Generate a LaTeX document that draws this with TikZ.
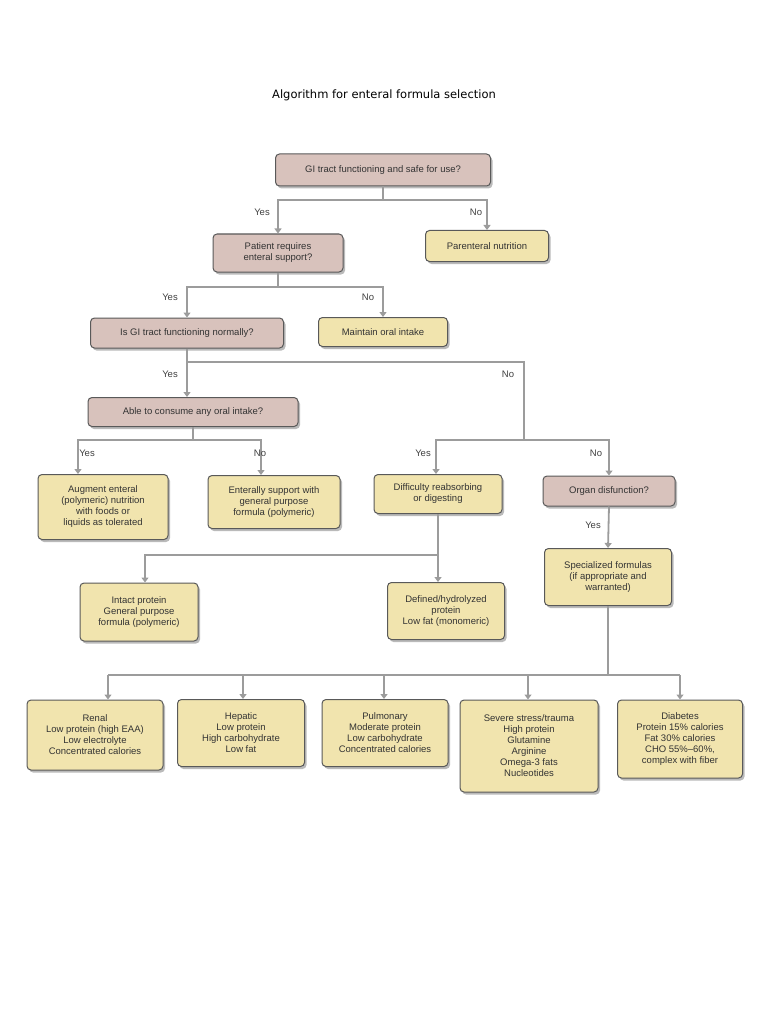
\documentclass[tikz,border=0pt]{standalone}
\usepackage{fontspec}
\setmainfont{Liberation Sans}
\newfontfamily\titlefont{DejaVu Sans}
\usetikzlibrary{shadows,arrows.meta}
\definecolor{pinkbox}{HTML}{D8C2BC}
\definecolor{yelbox}{HTML}{F1E4AE}
\definecolor{lin}{HTML}{9C9C9C}
\begin{document}
\begin{tikzpicture}[x=1pt,y=-1pt,
  bx/.style 2 args={draw=black!65, line width=1pt, rounded corners=4pt, align=center,
    font=\fontsize{9.5}{11}\selectfont, text=black!80, inner sep=1pt,
    minimum width=#1, minimum height=#2,
    drop shadow={shadow xshift=2pt, shadow yshift=-2.5pt, fill=black!45, opacity=.6}},
  pk/.style={fill=pinkbox},
  yl/.style={fill=yelbox},
  ln/.style={draw=lin, line width=1.8pt},
  ar/.style={ln, -{Triangle[width=7pt,length=5pt]}},
  lb/.style={font=\fontsize{9.5}{11}\selectfont, text=black!75}]
\useasboundingbox (0,0) rectangle (768,1024);
\node[font=\titlefont\fontsize{11.5}{14}\selectfont] (title) at (384,95) {Algorithm for enteral formula selection};

\node[bx={215pt}{32pt},pk] (gi) at (383,170) {GI tract functioning and safe for use?};
\node[bx={130pt}{38pt},pk] (pat) at (278,253) {Patient requires\\enteral support?};
\node[bx={123pt}{31pt},yl] (par) at (487,246) {Parenteral nutrition};
\node[bx={193pt}{30pt},pk] (isgi) at (187,333) {Is GI tract functioning normally?};
\node[bx={129pt}{29pt},yl] (oral) at (383,332) {Maintain oral intake};
\node[bx={210pt}{29pt},pk] (able) at (193,412) {Able to consume any oral intake?};
\node[bx={130pt}{65pt},yl] (aug) at (103,507) {Augment enteral\\(polymeric) nutrition\\with foods or\\liquids as tolerated};
\node[bx={132pt}{53pt},yl] (ent) at (274,502) {Enterally support with\\general purpose\\formula (polymeric)};
\node[bx={128pt}{39pt},yl] (dif) at (438,494) {Difficulty reabsorbing\\or digesting};
\node[bx={132pt}{30pt},pk] (org) at (609,491) {Organ disfunction?};
\node[bx={127pt}{57pt},yl] (spec) at (608,577) {Specialized formulas\\(if appropriate and\\warranted)};
\node[bx={118pt}{58pt},yl] (int) at (139,612) {Intact protein\\General purpose\\formula (polymeric)};
\node[bx={117pt}{57pt},yl] (def) at (446,611) {Defined/hydrolyzed\\protein\\Low fat (monomeric)};
\node[bx={136pt}{70pt},yl] (ren) at (95,735) {Renal\\Low protein (high EAA)\\Low electrolyte\\Concentrated calories};
\node[bx={127pt}{67pt},yl] (hep) at (241,733) {Hepatic\\Low protein\\High carbohydrate\\Low fat};
\node[bx={126pt}{67pt},yl] (pul) at (385,733) {Pulmonary\\Moderate protein\\Low carbohydrate\\Concentrated calories};
\node[bx={138pt}{92pt},yl] (sev) at (529,746) {Severe stress/trauma\\High protein\\Glutamine\\Arginine\\Omega-3 fats\\Nucleotides};
\node[bx={125pt}{78pt},yl] (dia) at (680,739) {Diabetes\\Protein 15\% calories\\Fat 30\% calories\\CHO 55\%--60\%,\\complex with fiber};

% junctions
\coordinate (j1) at (383,200);
\draw[ln] (gi.south) -- (j1);
\draw[ar] (j1) -| (pat.north);
\draw[ar] (j1) -| (par.north);
\node[lb] (y1) at (262,212) {Yes};
\node[lb] (n1) at (476,212) {No};

\coordinate (j2) at (278,287);
\draw[ln] (pat.south) -- (j2);
\draw[ar] (j2) -| (isgi.north);
\draw[ar] (j2) -| (oral.north);
\node[lb] (y2) at (170,297) {Yes};
\node[lb] (n2) at (368,297) {No};

\coordinate (j3) at (187,362);
\coordinate (j4) at (524,440);
\draw[ar] (isgi.south) -- (able.north -| isgi.south);
\draw[ln] (j3) -| (j4);
\node[lb] (y3) at (170,374) {Yes};
\node[lb] (n3) at (508,374) {No};

\coordinate (j5) at (193,440);
\draw[ln] (able.south) -- (j5);
\draw[ar] (j5) -| (aug.north -| 78,0);
\draw[ar] (j5) -| (ent.north -| 261,0);
\node[lb] (y4) at (87,453) {Yes};
\node[lb] (n4) at (260,453) {No};

\draw[ar] (j4) -| (dif.north -| 436,0);
\draw[ar] (j4) -| (org.north);
\node[lb] (y5) at (423,453) {Yes};
\node[lb] (n5) at (596,453) {No};

\draw[ar] (org.south) -- (spec.north);
\node[lb] (y6) at (593,525) {Yes};

\coordinate (j6) at (438,555);
\draw[ln] (dif.south) -- (j6);
\draw[ar] (j6) -| (int.north -| 145,0);
\draw[ar] (j6) -- (def.north -| 438,0);

\coordinate (j7) at (608,675);
\draw[ln] (spec.south) -- (j7);
\draw[ln] (108,675) -- (680,675);
\draw[ar] (108,675) -- (ren.north -| 108,0);
\draw[ar] (243,675) -- (hep.north -| 243,0);
\draw[ar] (384,675) -- (pul.north -| 384,0);
\draw[ar] (528,675) -- (sev.north -| 528,0);
\draw[ar] (680,675) -- (dia.north);
\end{tikzpicture}
\end{document}
